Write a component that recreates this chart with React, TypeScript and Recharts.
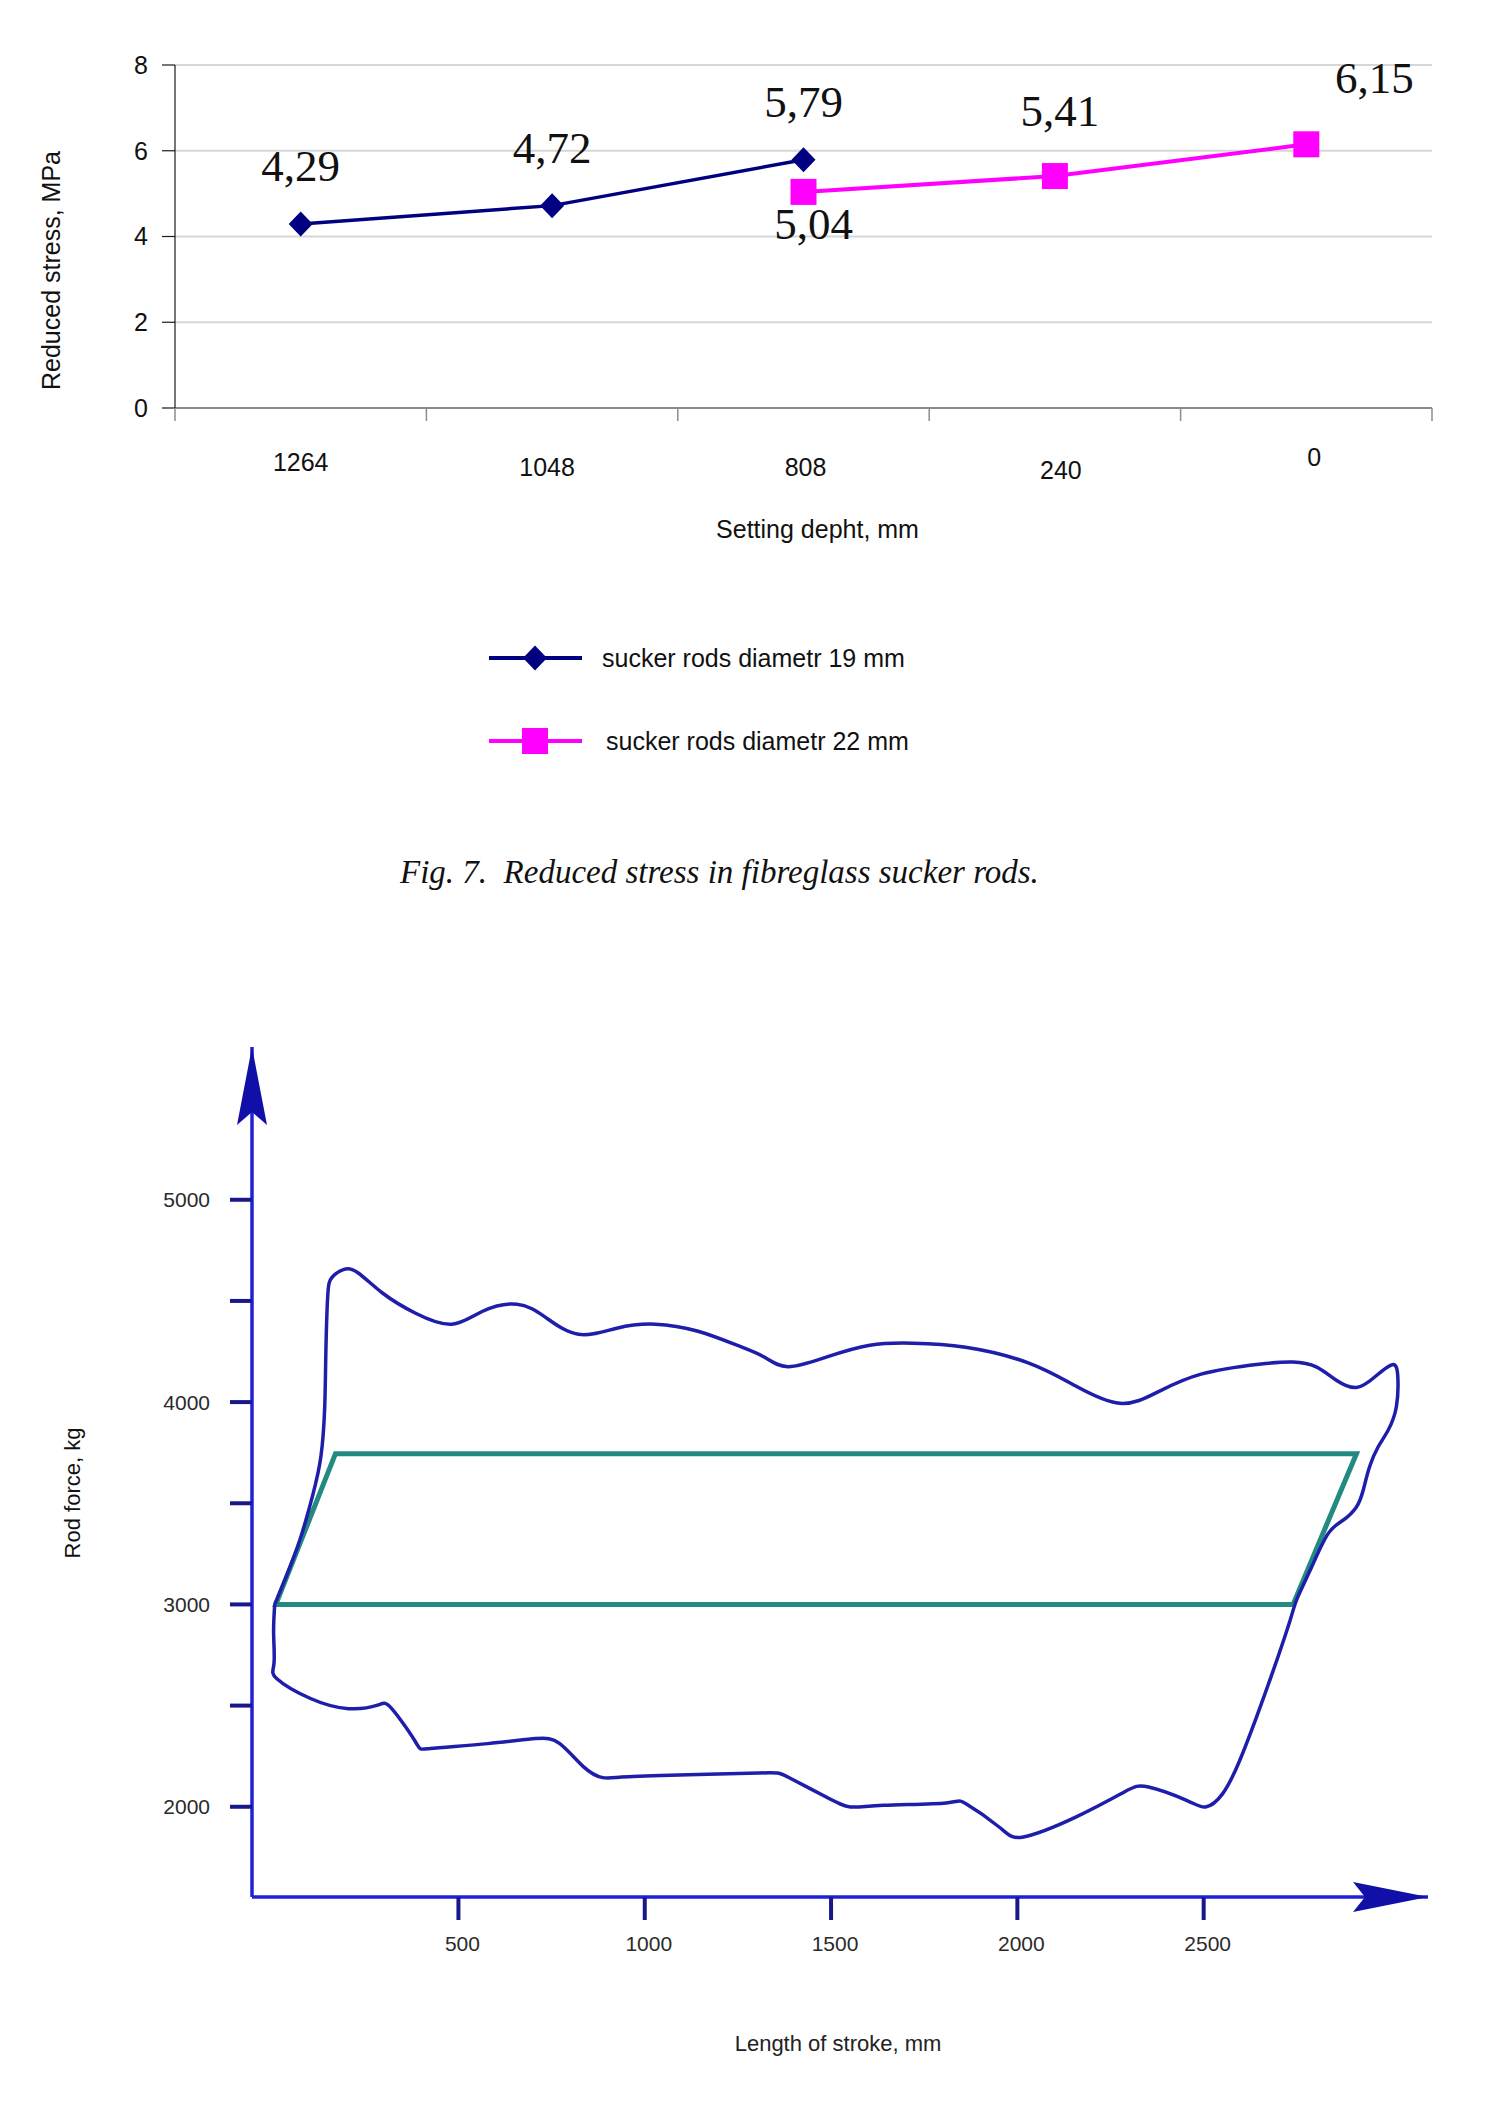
import { CartesianGrid, LabelList, Legend, Line, LineChart, ReferenceDot, XAxis, YAxis } from "recharts"

// reduced stress, MPa, by setting depth
const depths = ["1264", "1048", "808", "240", "0"]
const stress19 = [4.29, 4.72, 5.79, null, null]
const stress22 = [null, null, 5.04, 5.41, 6.15]
const stressTicks = [0, 2, 4, 6, 8]

// measured dynamometer card, traced clockwise from the bottom-left corner
const cardStroke = [
  7, 39, 75, 109, 131, 141, 144, 149, 161, 193, 232, 297, 385, 482, 565, 657, 733, 822, 925, 1028,
  1143, 1247, 1319, 1384, 1487, 1604, 1719, 1861, 2029, 2158, 2275, 2376, 2493, 2648, 2739, 2802,
  2856, 2910, 2959, 3006, 3021, 3017, 2995, 2968, 2945, 2928, 2910, 2874, 2834, 2790, 2751, 2732,
  2687, 2642, 2597, 2551, 2505, 2454, 2352, 2287, 2158, 2016, 1951, 1861, 1809, 1641, 1552, 1487,
  1384, 1306, 1067, 938, 887, 836, 772, 707, 579, 424, 385, 321, 283, 205, 103, 12, 5, 4, 7,
]
const cardForce = [
  3000, 3144, 3322, 3540, 3732, 3969, 4224, 4518, 4617, 4656, 4637, 4538, 4439, 4385, 4449, 4484,
  4420, 4335, 4365, 4385, 4350, 4281, 4224, 4175, 4222, 4281, 4291, 4271, 4194, 4078, 3994, 4049,
  4138, 4187, 4198, 4174, 4108, 4072, 4124, 4185, 4124, 3976, 3861, 3778, 3679, 3564, 3482, 3416,
  3350, 3186, 3030, 2922, 2675, 2444, 2230, 2065, 1999, 2032, 2098, 2073, 1950, 1851, 1900, 2016,
  2019, 2007, 1999, 2048, 2147, 2167, 2156, 2147, 2144, 2197, 2312, 2337, 2312, 2288, 2320, 2485,
  2502, 2485, 2535, 2634, 2708, 2856, 3000,
]
// theoretical card
const idealStroke = [10, 170, 2910, 2740]
const idealForce = [3000, 3745, 3745, 3000]

const strokeTicks = [500, 1000, 1500, 2000, 2500]
const forceTicks = [2000, 2500, 3000, 3500, 4000, 4500, 5000]
const strokeRange: [number, number] = [-54, 3102]
const forceRange: [number, number] = [1554, 5755]

const SANS = '"Liberation Sans", Arial, sans-serif'
const SERIF = '"Liberation Serif", "Times New Roman", serif'
const NAVY = "#000080"
const MAGENTA = "#ff00ff"
const AXIS_BLUE = "#2020d8"
const TICK_NAVY = "#18188a"
const CARD_BLUE = "#1e1eaa"
const TEAL = "#228a80"

const stressData = depths.map((depth, i) => ({ depth, d19: stress19[i], d22: stress22[i] }))
const cardData = cardStroke.map((mm, i) => ({ mm, kg: cardForce[i] }))
const idealData = idealStroke.map((mm, i) => ({ mm, kg: idealForce[i] }))

const TOP_W = 1494
const TOP_H = 800
const topMargin = { top: 65, right: 62, left: 115, bottom: 362 }
const bandW = (TOP_W - topMargin.left - topMargin.right - 60) / depths.length

const fmt = (v: number) => v.toFixed(2).replace(".", ",")
const diamondPath = (cx: number, cy: number) =>
  `M${cx},${cy - 12.5}L${cx + 12},${cy}L${cx},${cy + 12.5}L${cx - 12},${cy}Z`

function diamondDot(props: any) {
  const { cx, cy, index } = props
  if (cx == null || cy == null) return <g key={index} />
  return <path key={index} d={diamondPath(cx, cy)} fill={NAVY} />
}

function squareDot(props: any) {
  const { cx, cy, index } = props
  if (cx == null || cy == null) return <g key={index} />
  return <rect key={index} x={cx - 13} y={cy - 13} width={26} height={26} fill={MAGENTA} />
}

// value labels sit above the markers; 5,04 goes underneath to clear 5,79
const shift22: Record<number, [number, number]> = { 2: [10, 47], 3: [5, -50], 4: [68, -51] }

const valueLabel = (series: "d19" | "d22") => (props: any) => {
  const { value, index } = props
  if (value == null) return null
  const x = props.x ?? props.viewBox?.x
  const y = props.y ?? props.viewBox?.y
  const [dx, dy] = series === "d19" ? [0, -43] : shift22[index] ?? [0, -45]
  return (
    <text key={index} x={x + dx} y={y + dy} textAnchor="middle" fontFamily={SERIF} fontSize={45} fill="#111">
      {fmt(value)}
    </text>
  )
}

// depth labels are centred in each band, the tick marks fall on the band edges
const tickShift = [[0, 63], [-5, 68], [2, 68], [6, 71], [8, 58]]

function DepthTick({ x, y, payload, index }: any) {
  const [dx, dy] = tickShift[index] ?? [0, 64]
  const left = x - bandW / 2
  return (
    <g>
      <line x1={left} y1={y} x2={left} y2={y + 13} stroke="#8c8c8c" strokeWidth={1.5} />
      {index === depths.length - 1 && (
        <line x1={left + bandW} y1={y} x2={left + bandW} y2={y + 13} stroke="#8c8c8c" strokeWidth={1.5} />
      )}
      <text x={x + dx} y={y + dy} textAnchor="middle" fontFamily={SANS} fontSize={25} fill="#111">
        {payload.value}
      </text>
    </g>
  )
}

const yTitle = (text: string, dx: number, dy: number, size: number) => ({ viewBox }: any) => {
  const x = viewBox.x + dx
  const y = viewBox.y + viewBox.height / 2 + dy
  return (
    <text x={x} y={y} transform={`rotate(-90 ${x} ${y})`} textAnchor="middle" fontFamily={SANS} fontSize={size} fill="#111">
      {text}
    </text>
  )
}

const xTitle = (text: string, dx: number, dy: number, size: number, fill: string) => ({ viewBox }: any) => (
  <text x={viewBox.x + viewBox.width / 2 + dx} y={viewBox.y + dy} textAnchor="middle" fontFamily={SANS} fontSize={size} fill={fill}>
    {text}
  </text>
)

function StressLegend({ payload }: any) {
  return (
    <div style={{ fontFamily: SANS, fontSize: 25, color: "#111" }}>
      {(payload ?? []).map((entry: any, i: number) => (
        <div key={entry.value} style={{ display: "flex", alignItems: "center", height: 40, marginTop: i ? 43 : 0 }}>
          <svg width={93} height={40}>
            <line x1={0} y1={20} x2={93} y2={20} stroke={entry.color} strokeWidth={4} />
            {entry.dataKey === "d19" ? (
              <path d={diamondPath(46, 20)} fill={NAVY} />
            ) : (
              <rect x={33} y={7} width={26} height={26} fill={MAGENTA} />
            )}
          </svg>
          <span style={{ marginLeft: 20 + i * 4, whiteSpace: "nowrap" }}>{entry.value}</span>
        </div>
      ))}
    </div>
  )
}

const upArrow = ({ cx, cy }: any) => (
  <path d={`M${cx},${cy}L${cx + 15},${cy + 78}L${cx},${cy + 65}L${cx - 15},${cy + 78}Z`} fill="#1010a8" />
)
const rightArrow = ({ cx, cy }: any) => (
  <path d={`M${cx},${cy}L${cx - 75},${cy - 15}L${cx - 63},${cy}L${cx - 75},${cy + 15}Z`} fill="#1010a8" />
)

function StressChart() {
  return (
    <LineChart width={TOP_W} height={TOP_H} data={stressData} margin={topMargin}>
      <CartesianGrid vertical={false} stroke="#d6d6d6" strokeWidth={2} />
      <XAxis
        dataKey="depth"
        scale="band"
        tickLine={false}
        tickSize={0}
        tickMargin={0}
        height={30}
        axisLine={{ stroke: "#8a8a8a", strokeWidth: 2 }}
        tick={<DepthTick />}
        interval={0}
        label={{ content: xTitle("Setting depht, mm", 14, 130, 25, "#111") }}
      />
      <YAxis
        domain={[0, 8]}
        ticks={stressTicks}
        interval={0}
        width={60}
        tickSize={13}
        tickMargin={14}
        axisLine={{ stroke: "#1a1a1a", strokeWidth: 1.2 }}
        tickLine={{ stroke: "#1a1a1a", strokeWidth: 1.2 }}
        tick={{ fontFamily: SANS, fontSize: 25, fill: "#111" }}
        label={{ content: yTitle("Reduced stress, MPa", -55, 34, 25) }}
      />
      <Line
        dataKey="d19"
        name="sucker rods diametr 19 mm"
        stroke={NAVY}
        strokeWidth={3.5}
        dot={diamondDot}
        activeDot={false}
        isAnimationActive={false}
      >
        <LabelList dataKey="d19" content={valueLabel("d19")} />
      </Line>
      <Line
        dataKey="d22"
        name="sucker rods diametr 22 mm"
        stroke={MAGENTA}
        strokeWidth={4}
        dot={squareDot}
        activeDot={false}
        isAnimationActive={false}
      >
        <LabelList dataKey="d22" content={valueLabel("d22")} />
      </Line>
      <Legend
        layout="vertical"
        align="center"
        verticalAlign="middle"
        wrapperStyle={{ left: 489, top: 638, width: 700 }}
        content={<StressLegend />}
      />
    </LineChart>
  )
}

function CardChart() {
  return (
    <LineChart width={1494} height={1112} margin={{ top: 47, right: 66, left: 192, bottom: 185 }}>
      <XAxis
        type="number"
        dataKey="mm"
        domain={strokeRange}
        ticks={strokeTicks}
        interval={0}
        height={30}
        tickSize={23}
        tickMargin={16}
        axisLine={{ stroke: AXIS_BLUE, strokeWidth: 3.5 }}
        tickLine={{ stroke: TICK_NAVY, strokeWidth: 4 }}
        tick={{ fontFamily: SANS, fontSize: 21, fill: "#2a2a2a", dx: 4 }}
        label={{ content: xTitle("Length of stroke, mm", -2, 154, 22, "#222") }}
      />
      <YAxis
        type="number"
        domain={forceRange}
        ticks={forceTicks}
        interval={0}
        width={60}
        tickSize={22}
        tickMargin={20}
        tickFormatter={(v: number) => (v % 1000 === 0 ? String(v) : "")}
        axisLine={{ stroke: AXIS_BLUE, strokeWidth: 3.5 }}
        tickLine={{ stroke: TICK_NAVY, strokeWidth: 4 }}
        tick={{ fontFamily: SANS, fontSize: 21, fill: "#2a2a2a" }}
        label={{ content: yTitle("Rod force, kg", -112, 21, 22) }}
      />
      <Line
        data={idealData}
        dataKey="kg"
        type="linearClosed"
        stroke={TEAL}
        strokeWidth={5}
        dot={false}
        activeDot={false}
        isAnimationActive={false}
      />
      <Line
        data={cardData}
        dataKey="kg"
        type="natural"
        stroke={CARD_BLUE}
        strokeWidth={3.5}
        dot={false}
        activeDot={false}
        isAnimationActive={false}
      />
      <ReferenceDot x={strokeRange[0]} y={forceRange[1]} ifOverflow="visible" shape={upArrow} />
      <ReferenceDot x={strokeRange[1]} y={forceRange[0]} ifOverflow="visible" shape={rightArrow} />
    </LineChart>
  )
}

export default function App() {
  return (
    <div style={{ position: "absolute", left: 0, top: 0, width: 1494, height: 2112, background: "#fff" }}>
      <div style={{ position: "absolute", left: 0, top: 0 }}>
        <StressChart />
      </div>
      <div
        style={{
          position: "absolute",
          left: 400,
          top: 856,
          fontFamily: SERIF,
          fontStyle: "italic",
          fontSize: 33,
          lineHeight: "33px",
          whiteSpace: "pre",
          color: "#111",
        }}
      >
        {"Fig. 7.  Reduced stress in fibreglass sucker rods."}
      </div>
      <div style={{ position: "absolute", left: 0, top: 1000 }}>
        <CardChart />
      </div>
    </div>
  )
}
